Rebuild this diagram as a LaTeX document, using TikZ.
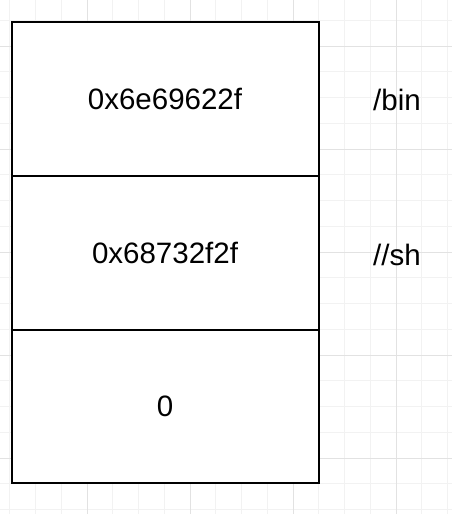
\documentclass[tikz,border=0pt]{standalone}
\usepackage{fontspec}
\setmainfont{Liberation Sans}
\definecolor{gridminor}{HTML}{F2F2F2}
\definecolor{gridmajor}{HTML}{E2E2E2}
\begin{document}
\begin{tikzpicture}[x=1pt,y=-1pt,
  cell/.style={draw=black,line width=2pt,fill=white,minimum width=307pt,minimum height=153.8pt,inner sep=0pt,outer sep=0pt,font=\fontsize{29.5}{34}\selectfont},
  lbl/.style={font=\fontsize{29.5}{34}\selectfont,inner sep=0pt}]
\useasboundingbox (0,0) rectangle (452,514);
\fill[white] (0,0) rectangle (452,514);
% grid
\foreach \k in {-3,...,14} {
  \pgfmathsetmacro{\gx}{87+\k*25.75}
  \draw[gridminor,line width=1pt] (\gx,0) -- (\gx,514);
}
\foreach \k in {-17,...,2} {
  \pgfmathsetmacro{\gy}{458+\k*25.75}
  \draw[gridminor,line width=1pt] (0,\gy) -- (452,\gy);
}
\foreach \gx in {87,190,293,396} \draw[gridmajor,line width=1pt] (\gx,0) -- (\gx,514);
\foreach \gy in {46,149,252,355,458} \draw[gridmajor,line width=1pt] (0,\gy) -- (452,\gy);
% boxes
\node[cell] (r1) at (165,98.9) {0x6e69622f};
\node[cell] (r2) at (165,252.7) {0x68732f2f};
\node[cell] (r3) at (165,406.5) {0};
\node[lbl] (l1) at (397,100) {/bin};
\node[lbl] (l2) at (397,255) {//sh};
\end{tikzpicture}
\end{document}
